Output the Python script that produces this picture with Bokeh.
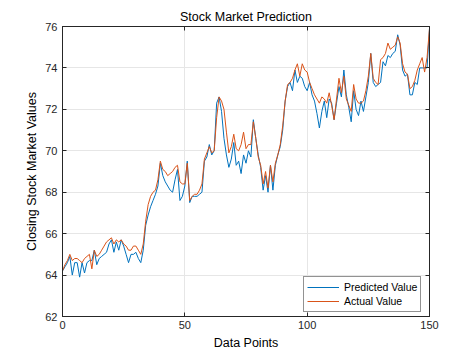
from bokeh.plotting import figure
from bokeh.models import LinearAxis, FixedTicker, Range1d, Legend, LegendItem, CustomJSTickFormatter
from bokeh.embed import file_html
from bokeh.resources import INLINE

x_points = list(range(0, 151))

actual_value = [
    64.2, 64.5, 64.7, 65.0, 64.7, 64.8, 64.8, 64.7, 64.6, 64.8,
    64.9, 65.0, 64.3, 65.2, 64.9, 65.0, 65.2, 65.4, 65.6, 65.7,
    65.8, 65.5, 65.7, 65.6, 65.7, 65.5, 65.4, 65.2, 65.2, 65.4,
    65.4, 65.2, 65.0, 65.5, 66.6, 67.4, 67.8, 68.0, 68.1, 68.6,
    69.5, 69.1, 69.0, 68.8, 68.9, 69.0, 69.2, 69.3, 68.5, 68.4,
    68.4, 69.4, 67.6, 67.8, 67.9, 67.9, 68.1, 68.4, 69.6, 69.9,
    70.2, 69.9, 70.0, 71.6, 72.6, 72.4, 72.0, 70.9, 69.9, 70.2,
    70.8, 70.1, 70.0, 70.3, 70.9, 70.1, 70.3, 70.3, 71.4, 70.6,
    69.7, 69.3, 68.4, 69.0, 68.2, 69.3, 68.5, 69.4, 69.8, 70.3,
    71.2, 72.4, 73.2, 73.3, 73.5, 73.9, 74.2, 73.6, 74.2, 73.9,
    73.8, 73.3, 73.0, 72.7, 72.5, 72.3, 72.6, 72.5, 72.3, 72.8,
    72.2, 71.5, 72.5, 73.5, 72.8, 73.6, 72.5, 72.2, 71.9, 73.2,
    72.5, 72.3, 72.3, 72.4, 72.9, 73.6, 74.7, 73.5, 73.3, 73.2,
    74.4, 74.5, 74.7, 75.2, 74.9, 75.0, 75.1, 75.5, 75.2, 74.2,
    73.8, 73.7, 73.0, 73.1, 73.4, 73.9, 74.2, 74.5, 73.8, 74.5,
    75.9,
]

predicted_value = [
    64.2, 64.4, 64.6, 64.9, 64.0, 64.6, 64.6, 63.9, 64.6, 64.1,
    64.6, 64.7, 64.7, 65.2, 64.5, 64.8, 64.9, 65.0, 65.1, 65.5,
    65.7, 65.1, 65.6, 65.2, 65.7, 65.4, 65.0, 64.6, 65.0, 65.0,
    65.1, 64.8, 64.6, 65.2, 66.4, 66.9, 67.3, 67.6, 67.9, 68.3,
    69.4, 68.8, 68.5, 68.3, 68.1, 68.0, 68.6, 69.1, 67.6, 67.8,
    68.3, 69.5, 67.5, 67.8, 67.8, 67.8, 67.9, 68.0, 69.5, 69.7,
    70.3, 69.8, 70.0, 72.3, 72.6, 71.9, 70.6, 69.8, 69.2, 69.6,
    70.4, 69.3, 69.5, 68.9, 69.8, 69.4, 70.0, 69.7, 71.5, 70.6,
    69.8, 69.2, 68.1, 68.8, 68.0, 69.3, 68.1, 69.3, 69.8, 70.2,
    71.0, 72.4, 73.1, 73.3, 72.9, 73.9, 73.3, 73.6, 73.5, 73.1,
    72.9, 73.3, 72.7, 72.4, 71.8, 71.1, 71.9, 72.4, 71.6, 72.5,
    72.3, 71.5, 72.3, 73.1, 72.6, 73.9, 72.7, 72.1, 71.4, 72.9,
    72.0, 71.7, 72.4, 71.9, 72.6, 73.3, 74.7, 73.3, 73.1, 73.2,
    73.3, 74.3, 74.1, 74.6, 74.5, 74.7, 74.8, 75.6, 75.1, 73.9,
    73.6, 73.7, 72.7, 72.7, 73.3, 73.2, 74.0, 74.0, 74.0, 74.0,
    75.9,
]

x_ticks = [0, 50, 100, 150]
y_ticks = [62, 64, 66, 68, 70, 72, 74, 76]

title_text = "Stock Market Prediction"
x_label = "Data Points"
y_label = "Closing Stock Market Values"
legend_labels = ["Predicted Value", "Actual Value"]

FONT = "Liberation Sans"
TXT = "#262626"

p = figure(width=474, height=355, output_backend="svg", toolbar_location=None,
           x_range=Range1d(0, 150), y_range=Range1d(62, 76),
           min_border_left=62, min_border_right=45, min_border_top=26, min_border_bottom=39)

p.title.text = title_text
p.title.align = "center"
p.title.text_font = FONT
p.title.text_font_size = "12.5px"
p.title.text_font_style = "normal"
p.title.text_color = "#000000"
p.title.standoff = 6

p.background_fill_color = "white"
p.border_fill_color = "white"
p.outline_line_color = TXT
p.outline_line_width = 1

r_pred = p.line(x_points, predicted_value, line_color="#0072BD", line_width=1)
r_act = p.line(x_points, actual_value, line_color="#D95319", line_width=1)

for ax, ticks in ((p.xaxis[0], x_ticks), (p.yaxis[0], y_ticks)):
    ax.ticker = FixedTicker(ticks=ticks)
    ax.major_tick_in = 4
    ax.major_tick_out = 0
    ax.minor_tick_line_color = None
    ax.axis_line_color = TXT
    ax.major_tick_line_color = TXT
    ax.major_label_text_font = FONT
    ax.major_label_text_font_size = "11px"
    ax.major_label_text_color = TXT
    ax.axis_label_text_font = FONT
    ax.axis_label_text_font_size = "12.5px"
    ax.axis_label_text_font_style = "normal"
    ax.axis_label_text_color = "#000000"

p.xaxis[0].axis_label = x_label
p.yaxis[0].axis_label = y_label
p.xaxis[0].major_label_standoff = 4
p.yaxis[0].major_label_standoff = 5
p.xaxis[0].axis_label_standoff = 4
p.yaxis[0].axis_label_standoff = 3

for loc, ticks in (("right", y_ticks), ("above", x_ticks)):
    ax = LinearAxis(ticker=FixedTicker(ticks=ticks),
                    formatter=CustomJSTickFormatter(code="return ''"))
    ax.major_tick_in = 4
    ax.major_tick_out = 0
    ax.minor_tick_line_color = None
    ax.axis_line_color = TXT
    ax.major_tick_line_color = TXT
    ax.major_label_standoff = 0
    p.add_layout(ax, loc)

p.xgrid.ticker = FixedTicker(ticks=x_ticks)
p.ygrid.ticker = FixedTicker(ticks=y_ticks)
p.grid.grid_line_color = "#e6e6e6"
p.grid.grid_line_width = 1

legend = Legend(items=[LegendItem(label=legend_labels[0], renderers=[r_pred]),
                       LegendItem(label=legend_labels[1], renderers=[r_act])],
                location=(241, 4))
legend.label_text_font = FONT
legend.label_text_font_size = "10.5px"
legend.label_text_color = "#000000"
legend.glyph_width = 32
legend.glyph_height = 14
legend.label_height = 14
legend.spacing = 0
legend.padding = 3
legend.margin = 0
legend.label_standoff = 5
legend.border_line_color = TXT
legend.border_line_width = 1
legend.background_fill_color = "white"
legend.background_fill_alpha = 1
p.add_layout(legend, "center")

open("out.html", "w").write(file_html(p, INLINE))
